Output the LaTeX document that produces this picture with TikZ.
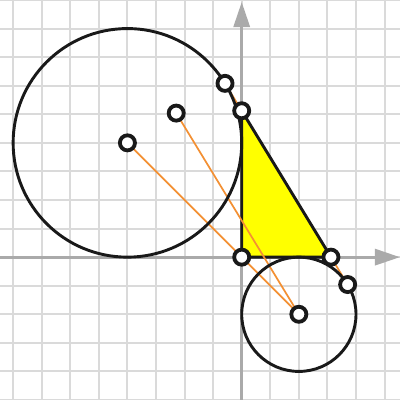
\documentclass[tikz,border=0pt]{standalone}
\usetikzlibrary{arrows.meta}
\definecolor{gridc}{HTML}{DADADA}
\definecolor{axisc}{HTML}{AAAAAA}
\definecolor{orangec}{HTML}{F39033}
\definecolor{fillc}{HTML}{FFFF00}
\tikzset{
  gridline/.style={gridc, line width=1.9pt},
  axisline/.style={axisc, line width=3pt, -{Triangle[length=25pt,width=16pt]}},
  orangeline/.style={orangec, line width=1.7pt},
  bigcirc/.style={black!90, line width=2.9pt},
  tri/.style={fill=fillc, draw=black!90, line width=2.9pt, line join=round},
  pt/.style={circle, draw=black!90, fill=white, line width=3.8pt, minimum size=15pt, inner sep=0pt},
}
\begin{document}
\begin{tikzpicture}[x=1cm,y=1cm]
\useasboundingbox (-8.46,-5) rectangle (5.54,9);
\fill[white] (-8.46,-5) rectangle (5.54,9);
% grid
\foreach \i in {-8,...,5} \draw[gridline] (\i,-5) -- (\i,9);
\foreach \j in {-5,...,9} \draw[gridline] (-8.46,\j) -- (5.54,\j);
% axes
\coordinate (xs) at (-8.46,0);
\coordinate (xe) at (5.54,0);
\coordinate (ys) at (0,-5);
\coordinate (ye) at (0,8.93);
\draw[axisline] (xs) -- (xe);
\draw[axisline] (ys) -- (ye);
% key points
\coordinate (O1) at (-4,4);
\coordinate (O2) at (2,-2);
\coordinate (A) at (0,0);
\coordinate (B) at (3.1231,0);
\coordinate (C) at (0,5.1231);
\coordinate (T1) at (-0.5846,6.0821);
\coordinate (T2) at (3.7077,-0.9590);
\coordinate (P) at (-2.2923,5.0410);
% triangle
\draw[tri] (A) -- (B) -- (C) -- cycle;
% orange lines
\draw[orangeline] (O1) -- (O2);
\draw[orangeline] (P) -- (O2);
\draw[orangeline] (C) -- (T1);
\draw[orangeline] (B) -- (T2);
% circles
\draw[bigcirc] (O1) circle[radius=4];
\draw[bigcirc] (O2) circle[radius=2];
% points
\node[pt] (nO1) at (O1) {};
\node[pt] (nO2) at (O2) {};
\node[pt] (nA) at (A) {};
\node[pt] (nB) at (B) {};
\node[pt] (nC) at (C) {};
\node[pt] (nT1) at (T1) {};
\node[pt] (nT2) at (T2) {};
\node[pt] (nP) at (P) {};
\end{tikzpicture}
\end{document}
